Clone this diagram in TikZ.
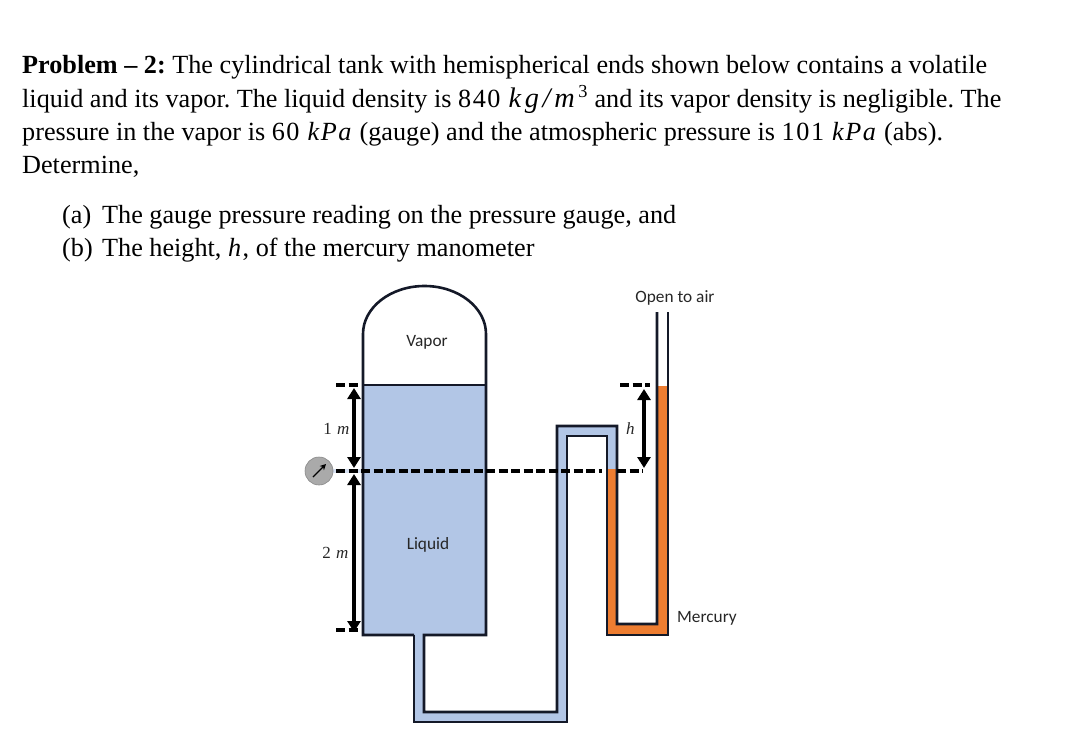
\documentclass[tikz,border=0pt]{standalone}
\usepackage{xcolor}
\usepackage{fontspec}
\setmainfont{Liberation Serif}
\newfontfamily\labelfont{Carlito}
\newfontfamily\mathfont{Liberation Serif}[LetterSpace=6]
\newfontfamily\mathwide{Liberation Serif}[LetterSpace=13,Scale=1.08]
\newcommand{\qty}[2]{{\mathfont #1\ \textit{#2}}}
\usetikzlibrary{arrows.meta}
\usetikzlibrary{calc}

\begin{document}
\begin{tikzpicture}[x=1pt,y=-1pt,line join=miter]
  % Colors
  \definecolor{liquidc}{RGB}{178,198,230}
  \definecolor{mercuryc}{RGB}{237,125,49}
  \definecolor{wallc}{RGB}{20,25,40}
  \definecolor{gaugec}{RGB}{170,170,170}
  % Styles
  \tikzstyle{text line}=[anchor=base west,inner sep=0pt,font=\fontsize{26.2}{30}\selectfont\frenchspacing]
  \tikzstyle{small text}=[inner sep=0pt,font=\labelfont\fontsize{17.3}{20}\selectfont,text=black!85]
  \tikzstyle{dim text}=[inner sep=0pt,font=\fontsize{17}{18}\selectfont,text=black!85]
  \tikzstyle{wall}=[draw=wallc,line width=2.6pt]
  \tikzstyle{level}=[draw=black,line width=3.2pt,dash pattern=on 9pt off 3.5pt]
  \tikzstyle{dim}=[draw=black,line width=4.4pt,{Triangle[length=11pt,width=13pt]}-{Triangle[length=11pt,width=13pt]},shorten <=0pt,shorten >=0pt]

  \useasboundingbox (0,0) rectangle (1080,755);

  % The text
  \node[text line] (line1) at (22,73) {\textbf{Problem – 2:} The cylindrical tank with hemispherical ends shown below contains a volatile};
  \node[text line] (line2) at (22,107) {liquid and its vapor. The liquid density is {\mathfont 840\ }{\mathwide\textit{kg/m}}\textsuperscript{3} and its vapor density is negligible. The};
  \node[text line] (line3) at (22,140) {pressure in the vapor is \qty{60}{kPa} (gauge) and the atmospheric pressure is \qty{101}{kPa} (abs).};
  \node[text line] (line4) at (22,173) {Determine,};
  \node[text line] (parta) at (62,223) {\makebox[40pt][l]{(a)}The gauge pressure reading on the pressure gauge, and};
  \node[text line] (partb) at (62,256) {\makebox[40pt][l]{(b)}The height, {\mathfont\textit{h}}, of the mercury manometer};

  % Fluids
  \fill[liquidc] (363,385) -- (486,385) -- (486,635) -- (424,635) -- (424,712) -- (557,712)
    -- (557,426) -- (617,426) -- (617,469) -- (607,469) -- (607,436) -- (567,436)
    -- (567,722) -- (414,722) -- (414,635) -- (363,635) -- cycle;
  \fill[mercuryc] (607,469) -- (617,469) -- (617,624) -- (657,624) -- (657,386) -- (668,386)
    -- (668,635) -- (607,635) -- cycle;

  % Walls
  \draw[wall] (414,635) -- (363,635) -- (363,334) arc[start angle=180,end angle=360,x radius=61.5,y radius=48]
    -- (486,635) -- (424,635) -- (424,712) -- (557,712) -- (557,426) -- (617,426)
    -- (617,624) -- (657,624) -- (657,312);
  \draw[wall] (414,635) -- (414,722) -- (567,722) -- (567,436) -- (607,436)
    -- (607,635) -- (668,635) -- (668,312);
  \draw[wall,line width=1.9pt] (363,385) -- (486,385);

  % Gauge
  \fill[liquidc!50!white] (333,469) rectangle (365,473);
  \node[circle,draw=gaugec!80!black,line width=0.6pt,fill=gaugec,minimum size=28pt,inner sep=0pt] (gauge) at (319,471) {};
  \coordinate (needle0) at (313,477);
  \coordinate (needle1) at (326,464);
  \draw[-{Stealth[length=6pt,width=6pt]},line width=1.1pt] (needle0) -- (needle1);

  % Levels
  \coordinate (topA) at (336,385);
  \coordinate (topB) at (360,385);
  \coordinate (midA) at (336,471);
  \coordinate (midB) at (602,471);
  \coordinate (midC) at (617,471);
  \coordinate (midD) at (643,471);
  \coordinate (lowA) at (336,630);
  \coordinate (lowB) at (358,630);
  \coordinate (hgA) at (620,385);
  \coordinate (hgB) at (650,385);
  \draw[level] (topA) -- (topB);
  \draw[level] (midA) -- (midB);
  \draw[level] (midC) -- (midD);
  \draw[level] (lowA) -- (lowB);
  \draw[level] (hgA) -- (hgB);

  % Dimensions
  \coordinate (oneT) at (354,388);
  \coordinate (oneB) at (354,468);
  \coordinate (twoT) at (354,474);
  \coordinate (twoB) at (354,632);
  \coordinate (hT) at (644,389);
  \coordinate (hB) at (644,468);
  \draw[dim] (oneT) -- (oneB);
  \draw[dim] (twoT) -- (twoB);
  \draw[dim] (hT) -- (hB);

  % Labels
  \node[small text] (vapor) at (427,342) {Vapor};
  \node[small text] (liquid) at (428,545) {Liquid};
  \node[small text] (air) at (675,298) {Open to air};
  \node[small text,anchor=west] (mercury) at (677,618) {Mercury};
  \node[dim text] (onem) at (337,429) {\qty{1}{m}};
  \node[dim text] (twom) at (336,553) {\qty{2}{m}};
  \node[dim text] (hlabel) at (631,429) {{\mathfont\textit{h}}};
\end{tikzpicture}
\end{document}
